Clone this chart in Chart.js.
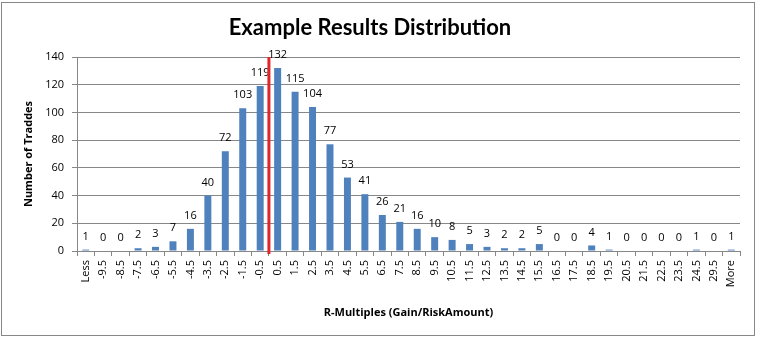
<!DOCTYPE html>
<html>
<head>
<meta charset="utf-8">
<script src="https://cdn.jsdelivr.net/npm/chart.js@4.4.1/dist/chart.umd.min.js"></script>
<style>
  body { margin: 0; background: #fff; }
  #frame { position: absolute; left: 1px; top: 2px; width: 752px; height: 332px; border: 1px solid #878787; }
  #wrap { position: absolute; left: 0; top: 0; width: 757px; height: 339px; }
</style>
</head>
<body>
<div id="frame"></div>
<div id="wrap"><canvas id="histChart" width="757" height="339"></canvas></div>
<script>
// bins of the R-multiple histogram
const bins = ['Less', '-9.5', '-8.5', '-7.5', '-6.5', '-5.5', '-4.5', '-3.5', '-2.5', '-1.5', '-0.5',
  '0.5', '1.5', '2.5', '3.5', '4.5', '5.5', '6.5', '7.5', '8.5', '9.5', '10.5', '11.5', '12.5',
  '13.5', '14.5', '15.5', '16.5', '17.5', '18.5', '19.5', '20.5', '21.5', '22.5', '23.5', '24.5',
  '29.5', 'More'];
const tradeCounts = [1, 0, 0, 2, 3, 7, 16, 40, 72, 103, 119,
  132, 115, 104, 77, 53, 41, 26, 21, 16, 10, 8, 5, 3,
  2, 2, 5, 0, 0, 4, 1, 0, 0, 0, 0, 1,
  0, 1];
const yTicks = [0, 20, 40, 60, 80, 100, 120, 140];
// red marker goes between the last losing bin and the first winning bin
const breakEvenAfter = '-0.5';

const gridGray = '#878787';

// value labels over the bars + the red break-even line
const histExtras = {
  id: 'histExtras',
  afterDatasetsDraw: function (chart) {
    const ctx = chart.ctx;
    const meta = chart.getDatasetMeta(0);
    ctx.save();
    ctx.font = '11px "Open Sans"';
    ctx.fillStyle = '#000';
    ctx.textAlign = 'center';
    ctx.textBaseline = 'middle';
    meta.data.forEach(function (bar, i) {
      ctx.fillText(String(tradeCounts[i]), bar.x, bar.y - 13);
    });

    const xs = chart.scales.x;
    const ys = chart.scales.y;
    const idx = bins.indexOf(breakEvenAfter);
    const lineX = (xs.getPixelForValue(idx) + xs.getPixelForValue(idx + 1)) / 2;
    ctx.strokeStyle = '#E2242B';
    ctx.lineWidth = 3;
    ctx.beginPath();
    ctx.moveTo(lineX, ys.getPixelForValue(yTicks[yTicks.length - 1]));
    ctx.lineTo(lineX, ys.bottom + 3);
    ctx.stroke();
    ctx.restore();
  }
};

const ctx = document.getElementById('histChart').getContext('2d');
const histChart = new Chart(ctx, {
  type: 'bar',
  data: {
    labels: bins,
    datasets: [{
      data: tradeCounts,
      backgroundColor: '#4F81BD',
      barPercentage: 0.4,
      categoryPercentage: 1.0
    }]
  },
  options: {
    responsive: false,
    animation: false,
    layout: { padding: { left: 0, right: 17, top: 0, bottom: 0 } },
    plugins: {
      legend: { display: false },
      tooltip: { enabled: false },
      title: {
        display: true,
        text: 'Example Results Distribution',
        color: '#000',
        font: { family: 'Lato', size: 22, weight: 'bold' },
        padding: { top: 15, bottom: 15.6 }
      }
    },
    scales: {
      x: {
        grid: { display: true, drawOnChartArea: false, offset: true, tickLength: 5, color: gridGray },
        border: { color: gridGray },
        ticks: {
          color: '#000',
          font: { family: 'Open Sans', size: 11 },
          minRotation: 90,
          maxRotation: 90,
          autoSkip: false,
          padding: 4
        },
        title: {
          display: true,
          text: 'R-Multiples (Gain/RiskAmount)',
          color: '#000',
          font: { family: 'Open Sans', size: 11, weight: 'bold' },
          padding: { top: 0, bottom: 20 }
        },
        afterFit: function (scale) { scale.height = 88; }
      },
      y: {
        min: 0,
        max: 140,
        afterBuildTicks: function (scale) {
          scale.ticks = yTicks.map(function (v) { return { value: v }; });
        },
        grid: { color: gridGray, tickLength: 5 },
        border: { color: gridGray },
        ticks: {
          color: '#000',
          font: { family: 'Open Sans', size: 11 },
          padding: 8
        },
        title: {
          display: true,
          text: 'Number of Traddes',
          color: '#000',
          font: { family: 'Open Sans', size: 11, weight: 'bold' },
          padding: { top: 22, bottom: 0 }
        },
        afterFit: function (scale) { scale.width = 77; }
      }
    }
  },
  plugins: [histExtras]
});
</script>
</body>
</html>
